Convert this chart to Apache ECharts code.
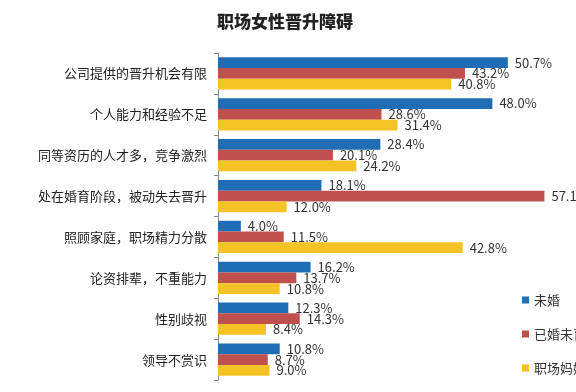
<!DOCTYPE html>
<html>
<head>
<meta charset="utf-8">
<script src="https://cdn.jsdelivr.net/npm/echarts@6/dist/echarts.min.js"></script>
<style>html,body{margin:0;padding:0;background:#fff}#c{width:576px;height:392px}</style>
</head>
<body>
<div id="c"></div>
<script>
const categories = ['公司提供的晋升机会有限','个人能力和经验不足','同等资历的人才多，竞争激烈','处在婚育阶段，被动失去晋升','照顾家庭，职场精力分散','论资排辈，不重能力','性别歧视','领导不赏识'];
const seriesNames = ['未婚','已婚未育','职场妈妈'];
const unmarried = [50.7, 48.0, 28.4, 18.1, 4.0, 16.2, 12.3, 10.8];
const marriedNoKids = [43.2, 28.6, 20.1, 57.1, 11.5, 13.7, 14.3, 8.7];
const workingMoms = [40.8, 31.4, 24.2, 12.0, 42.8, 10.8, 8.4, 9.0];
const colors = ['#1f6db5', '#c0504d', '#f5c325'];
const font = '"Noto Sans CJK SC", "Noto Sans", sans-serif';

const chart = echarts.init(document.getElementById('c'));
const mk = (name, data, i) => ({
  name, type: 'bar', data,
  barGap: '0%', barCategoryGap: '21%',
  itemStyle: { color: colors[i] },
  label: {
    show: true, position: 'right', distance: 7,
    formatter: p => p.value.toFixed(1) + '%',
    color: '#333', fontSize: 13, fontFamily: font
  },
  silent: true, animation: false
});
chart.setOption({
  animation: false,
  title: {
    text: '职场女性晋升障碍', left: 280, textAlign: 'center', top: 8,
    textStyle: { fontSize: 17, fontWeight: 900, color: '#222', fontFamily: font }
  },
  legend: {
    orient: 'vertical', left: 517, top: 288,
    itemWidth: 7, itemHeight: 7, itemGap: 20, icon: 'rect',
    textStyle: { fontSize: 13, color: '#333', fontFamily: font, lineHeight: 14 },
    data: seriesNames
  },
  grid: { left: 218, right: 15, top: 53, bottom: 12, containLabel: false },
  xAxis: { type: 'value', min: 0, max: 60, show: false },
  yAxis: {
    type: 'category', data: categories, inverse: true,
    axisLine: { show: true, lineStyle: { color: '#888' } },
    axisTick: { show: true, length: 4, lineStyle: { color: '#888' } },
    axisLabel: { color: '#222', fontSize: 13, margin: 11, fontFamily: font }
  },
  series: [mk(seriesNames[0], unmarried, 0), mk(seriesNames[1], marriedNoKids, 1), mk(seriesNames[2], workingMoms, 2)]
});
</script>
</body>
</html>
